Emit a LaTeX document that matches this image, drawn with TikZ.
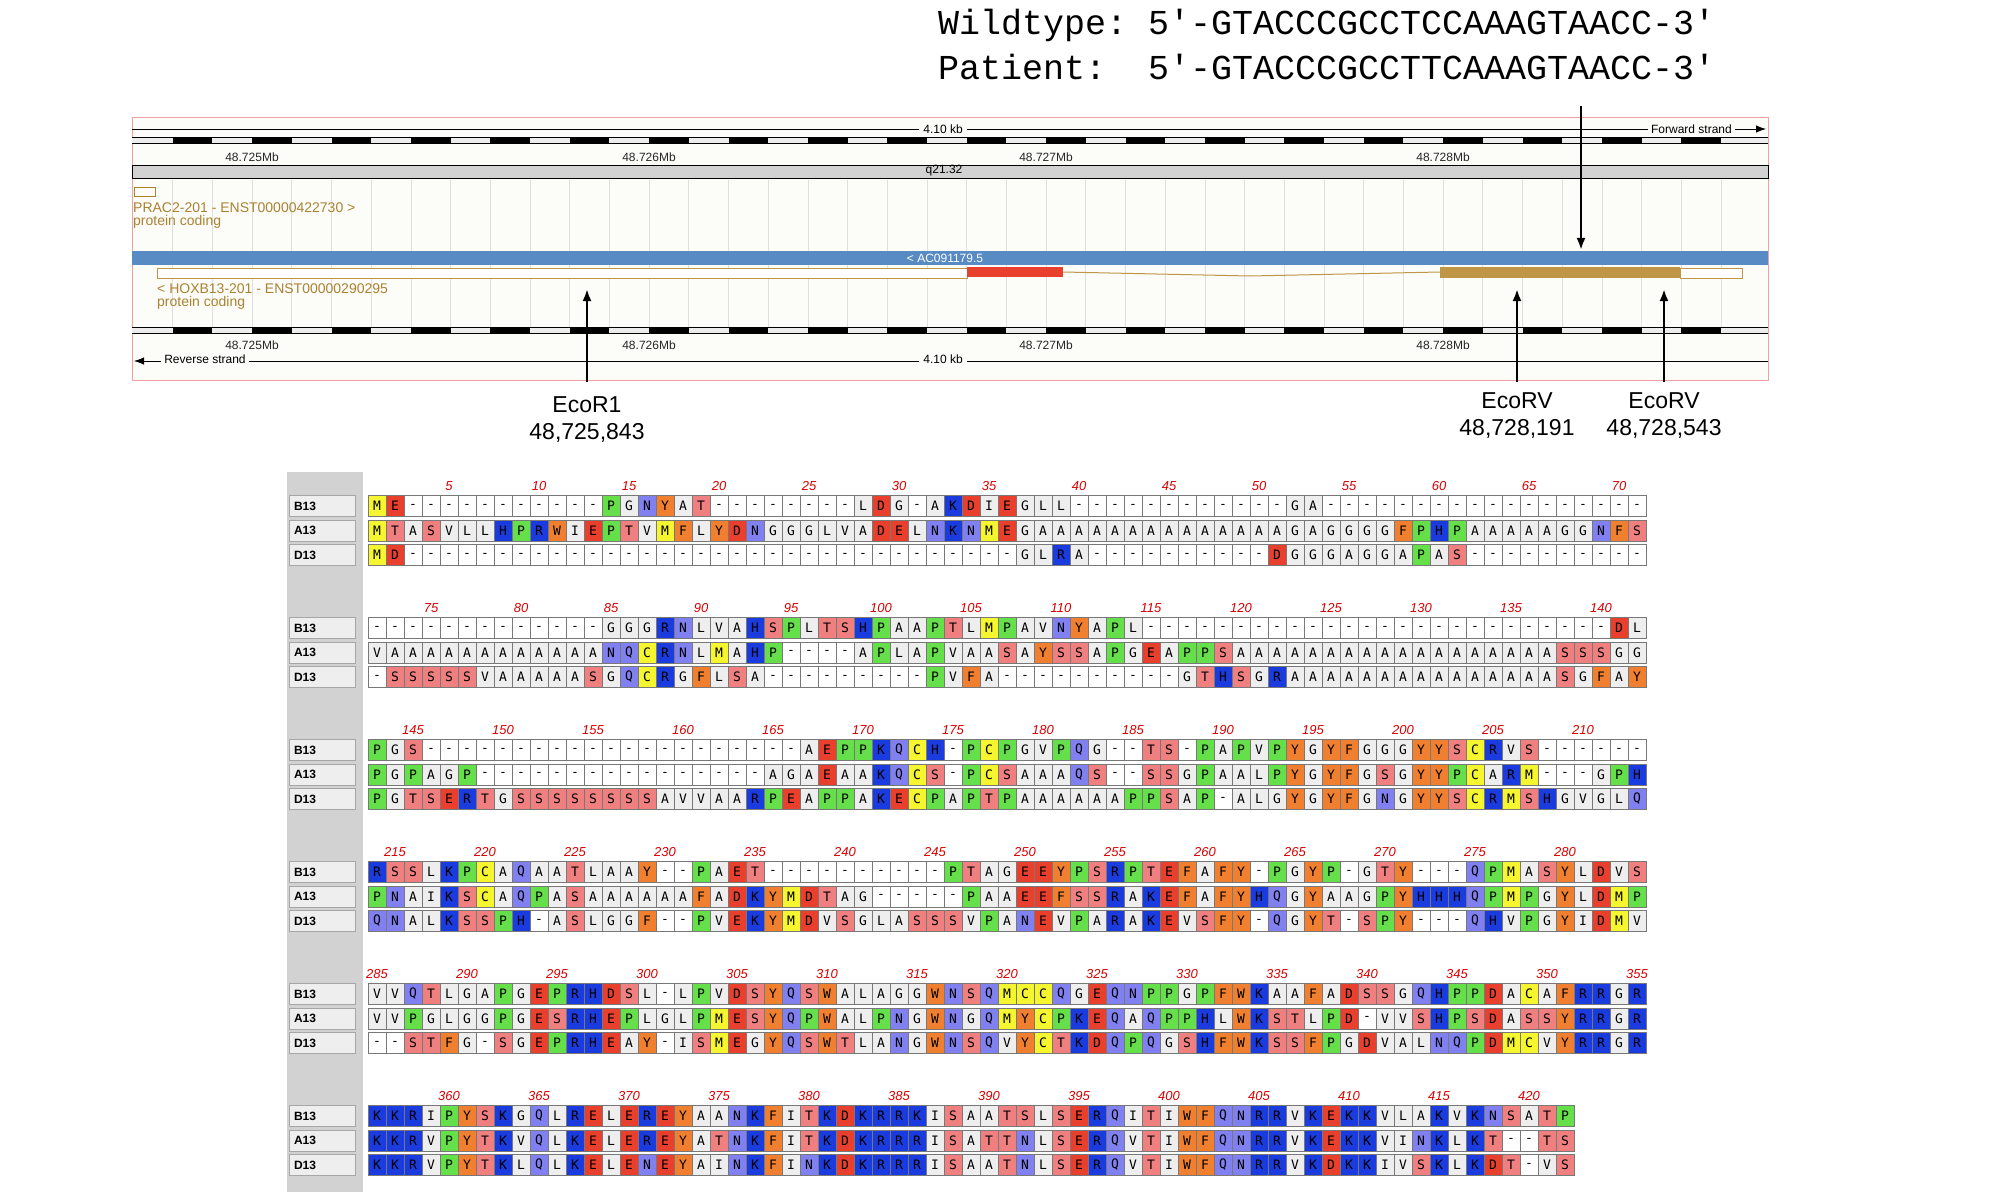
\documentclass[tikz,border=0pt]{standalone}
\usepackage{fontspec}
\setmainfont{Liberation Sans}
\newfontfamily\seqmono{Liberation Mono}
\newfontfamily\cellfnt{DejaVu Sans Mono}
\usetikzlibrary{arrows.meta}
\definecolor{cred}{RGB}{232,64,44}
\definecolor{cblu}{RGB}{26,59,222}
\definecolor{clbl}{RGB}{128,128,240}
\definecolor{cgrn}{RGB}{102,224,74}
\definecolor{csal}{RGB}{240,128,128}
\definecolor{corg}{RGB}{240,128,48}
\definecolor{cyel}{RGB}{245,245,48}
\definecolor{cgry}{RGB}{238,238,238}
\definecolor{cbd}{RGB}{120,120,120}
\definecolor{goldtx}{RGB}{170,130,50}
\definecolor{goldex}{RGB}{190,150,70}
\definecolor{bluebar}{RGB}{88,138,196}
\definecolor{pinkbd}{RGB}{240,160,160}
\definecolor{panelbg}{RGB}{252,252,248}
\def\setres#1#2{\expandafter\def\csname rc@#1\endcsname{#2}}
\setres{D}{cred}\setres{E}{cred}
\setres{K}{cblu}\setres{R}{cblu}\setres{H}{cblu}
\setres{N}{clbl}\setres{Q}{clbl}
\setres{P}{cgrn}
\setres{S}{csal}\setres{T}{csal}
\setres{F}{corg}\setres{Y}{corg}\setres{W}{corg}
\setres{M}{cyel}\setres{C}{cyel}
\setres{A}{cgry}\setres{V}{cgry}\setres{L}{cgry}\setres{I}{cgry}\setres{G}{cgry}
\setres{-}{white}
\newcount\alcnt
\def\alrow#1#2{\def\ay{#1}\alcnt=0 \alloop#2\relax}
\def\alloop#1{\ifx#1\relax\else\alcell{#1}\advance\alcnt by 1 \expandafter\alloop\fi}
\def\alcell#1{\pgfmathsetmacro\cx{377+18*\the\alcnt}\edef\cc{\csname rc@#1\endcsname}%
  \path[fill=\cc,draw=cbd,line width=0.5pt] (\cx-9,\ay-10.5) rectangle (\cx+9,\ay+10.5);
  \node[rescell] at (\cx,\ay) {#1};}
\def\scalebar#1{%
  \fill[gray!15] (132,#1) rectangle (1768,#1+6);
  \foreach \k in {0,...,19} \fill[black] (172.7+2*\k*39.7,#1) rectangle ++(39.7,6);
  \draw[line width=0.6pt] (132,#1) -- (1768,#1);
  \draw[line width=0.6pt] (132,#1+6) -- (1768,#1+6);}
\begin{document}
\begin{tikzpicture}[x=1pt,y=-1pt,
  rescell/.style={inner sep=0pt,font=\cellfnt\fontsize{13}{13}\selectfont},
  numlab/.style={inner sep=0pt,text=red!85!black,font=\itshape\fontsize{13}{13}\selectfont},
  rowlab/.style={fill=cgry,draw=gray!70,minimum width=66pt,minimum height=21pt,inner sep=0pt,font=\bfseries\fontsize{12}{12}\selectfont,text width=56pt},
  small/.style={inner sep=0pt,font=\fontsize{12}{12}\selectfont},
  goldtext/.style={inner sep=0pt,anchor=west,text=goldtx,font=\fontsize{14}{14}\selectfont},
  enz/.style={inner sep=0pt,font=\fontsize{23}{27}\selectfont,align=center},
  arr/.style={-{Latex[length=12pt,width=9pt]},line width=2.5pt},
  gridl/.style={draw=gray!25,line width=0.8pt}]
\useasboundingbox (0,0) rectangle (1989,1201);
\fill[white] (0,0) rectangle (1989,1201);
% sequence text
\node[inner sep=0pt,anchor=west,font=\seqmono\fontsize{35}{35}\selectfont] (wt) at (938,25) {Wildtype:\ 5'-GTACCCGCCTCCAAAGTAACC-3'};
\node[inner sep=0pt,anchor=west,font=\seqmono\fontsize{35}{35}\selectfont] (pt) at (938,67) {Patient:\ \ 5'-GTACCCGCCTTCAAAGTAACC-3'};
% browser panel
\draw[pinkbd,line width=1pt,fill=panelbg] (132,118) rectangle (1768,380);
\foreach \i in {0,...,39} \draw[gridl] (172.7+\i*39.7,180) -- (172.7+\i*39.7,327);
\draw[-{Latex[length=10pt]},line width=0.8pt] (132,129) -- (1766,129);
\node[small,fill=panelbg,inner xsep=4pt] (kb1) at (943,129) {4.10 kb};
\node[small,fill=panelbg,inner xsep=3pt,anchor=east] (fs) at (1735,129) {Forward strand};
\scalebar{137}
\foreach \x/\t in {252/48.725Mb,649/48.726Mb,1046/48.727Mb,1443/48.728Mb} \node[small,text=gray!30!black] at (\x,157) {\t};
\draw[fill=gray!35,draw=black,line width=0.8pt] (132,165) rectangle (1768,178);
\node[small] (band) at (944,171) {q21.32};
\draw[goldtx,line width=0.8pt] (134,187) rectangle (155,196);
\node[goldtext] (prac) at (133,208) {PRAC2-201 - ENST00000422730 >};
\node[goldtext] (pracb) at (133,222) {protein coding};
\fill[bluebar] (132,251) rectangle (1768,265);
\node[small,text=white] (ac) at (945,258) {< AC091179.5};
\draw[goldex,line width=0.9pt,fill=white] (157,268) rectangle (967,278);
\draw[goldex,line width=0.9pt,fill=white] (1680,268) rectangle (1742,278);
\draw[goldex,line width=1pt] (1063,272) -- (1250,276) -- (1440,272);
\fill[cred] (967,267) rectangle (1063,277);
\fill[goldex] (1440,267) rectangle (1680,278);
\node[goldtext] (hox) at (157,289) {< HOXB13-201 - ENST00000290295};
\node[goldtext] (hoxb) at (157,303) {protein coding};
\scalebar{327}
\foreach \x/\t in {252/48.725Mb,649/48.726Mb,1046/48.727Mb,1443/48.728Mb} \node[small,text=gray!30!black] at (\x,345) {\t};
\draw[{Latex[length=10pt]}-,line width=0.8pt] (134,361) -- (1768,361);
\node[small,fill=panelbg,inner xsep=3pt] (rs) at (205,359) {Reverse strand};
\node[small,fill=panelbg,inner xsep=4pt] (kb2) at (943,359) {4.10 kb};
% arrows and enzyme labels
\coordinate (mutTop) at (1581,106);
\coordinate (mutEnd) at (1581,250);
\draw[arr] (mutTop) -- (mutEnd);
\node[enz] (e1) at (587,420) {EcoR1\\48,725,843};
\node[enz] (e2) at (1517,416) {EcoRV\\48,728,191};
\node[enz] (e3) at (1664,416) {EcoRV\\48,728,543};
\coordinate (e1t) at (587,289);\coordinate (e2t) at (1517,289);\coordinate (e3t) at (1664,289);
\draw[arr] (587,382) -- (e1t);
\draw[arr] (1517,382) -- (e2t);
\draw[arr] (1664,382) -- (e3t);
% alignment
\fill[gray!35] (287,472) rectangle (363,1192);
\foreach \b/\labs in {0/{5,10,...,70},1/{75,80,...,140},2/{145,150,...,210},3/{215,220,...,280},4/{285,290,...,355},5/{360,365,...,420}}{
  \pgfmathsetmacro\by{506+\b*122}
  \pgfmathtruncatemacro\st{1+71*\b}
  \foreach \n in \labs {\node[numlab] at ({377+18*(\n-\st)},\by-20) {\n};}
  \node[rowlab] at (322,\by) {B13};
  \node[rowlab] at (322,\by+24.5) {A13};
  \node[rowlab] at (322,\by+49) {D13};
}
\alrow{506}{ME-----------PGNYAT--------LDG-AKDIEGLL------------GA------------------}
\alrow{530.5}{MTASVLLHPRWIEPTVMFLYDNGGGLVADELNKNMEGAAAAAAAAAAAAAAGAGGGGFPHPAAAAAGGNFS}
\alrow{555}{MD----------------------------------GLRA----------DGGGAGGAPAS----------}
\alrow{628}{-------------GGGRNLVAHSPLTSHPAAPTLMPAVNYAPL--------------------------DL}
\alrow{652.5}{VAAAAAAAAAAAANQCRNLMAHP----APLAPVAASAYSSAPGEAPPSAAAAAAAAAAAAAAAAAASSSGG}
\alrow{677}{-SSSSSVAAAAASGQCRGFLSA---------PVFA----------GTHSGRAAAAAAAAAAAAAAASGFAY}
\alrow{750}{PGS---------------------AEPPKQCH-PCPGVPQG--TS-PAPVPYGYFGGGYYSCRVS------}
\alrow{774.5}{PGPAGP----------------AGAEAAKQCS-PCSAAAQS--SSGPAALPYGYFGSGYYPCARM---GPH}
\alrow{799}{PGTSERTGSSSSSSSSAVVAARPEAPPAKECPAPTPAAAAAAPPSAP-ALGYGYFGNGYYSCRMSHGVGLQ}
\alrow{872}{RSSLKPCAQAATLAAY--PAET----------PTAGEEYPSRPTEFAFY-PGYP-GTY---QPMASYLDVS}
\alrow{896.5}{PNAIKSCAQPASAAAAAAFADKYMDTAG-----PAAEEFSSRAKEFAFYHQGYAAGPYHHHQPMPGYLDMP}
\alrow{921}{QNALKSSPH-ASLGGF--PVEKYMDVSGLASSSVPANEVPARAKEVSFY-QGYT-SPY---QHVPGYIDMV}
\alrow{994}{VVQTLGAPGEPRHDSL-LPVDSYQSWALAGGWNSQMCCQGEQNPPGPFWKAAFADSSGQHPPDACAFRRGR}
\alrow{1018.5}{VVPGLGGPGESRHEPLGLPMESYQPWALPNGWNGQMYCPKEQAQPPHLWKSTLPD-VVSHPSDASSYRRGR}
\alrow{1043}{--STFG-SGEPRHEAY-ISMEGYQSWTLANGWNSQVYCTKDQPQGSHFWKSSFPGDVALNQPDMCVYRRGR}
\alrow{1116}{KKRIPYSKGQLRELEREYAANKFITKDKRRKISAATSLSERQITIWFQNRRVKEKKVLAKVKNSATP}
\alrow{1140.5}{KKRVPYTKVQLKELEREYATNKFITKDKRRRISATTNLSERQVTIWFQNRRVKEKKVINKLKT--TS}
\alrow{1165}{KKRVPYTKLQLKELENEYAINKFINKDKRRRISAATNLSERQVTIWFQNRRVKDKKIVSKLKDT-VS}
\end{tikzpicture}
\end{document}
